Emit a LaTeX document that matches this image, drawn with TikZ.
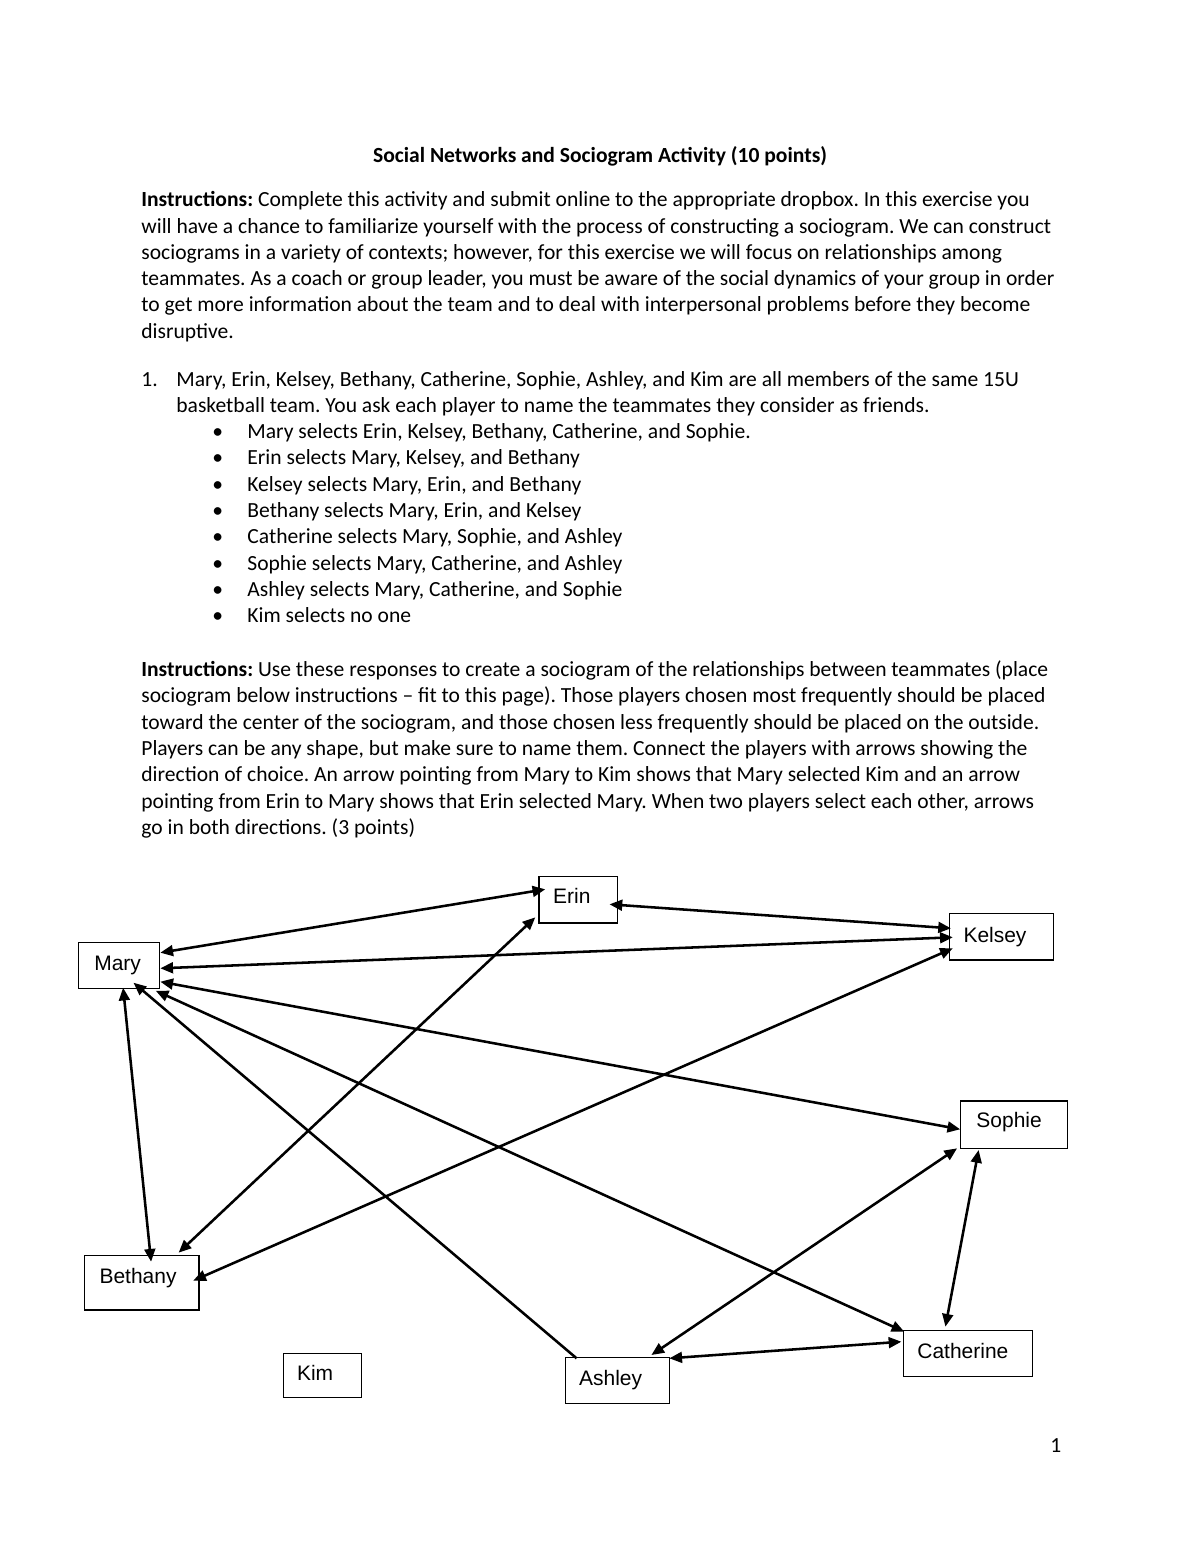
\documentclass[tikz,border=0pt]{standalone}
\usepackage{fontspec}
\setmainfont{Carlito}
\newfontfamily\boxfont{Liberation Sans}
\usetikzlibrary{arrows.meta}
\frenchspacing
\begin{document}
\begin{tikzpicture}[x=0.51pt,y=-0.51pt,
  txt/.style={anchor=base west, inner sep=0pt, font=\fontsize{11pt}{13.4pt}\selectfont},
  ttl/.style={anchor=base, inner sep=0pt, font=\fontsize{11pt}{13.4pt}\selectfont\bfseries},
  pbox/.style={draw, line width=0.6pt, rectangle, anchor=north west, inner ysep=0pt,
    align=left, font=\boxfont\fontsize{10.7pt}{12pt}\selectfont},
  >={Triangle[length=6.5pt,width=5.5pt]},
  conn/.style={line width=1.3pt, <->},
  oneway/.style={line width=1.3pt, ->}]
\useasboundingbox (0,0) rectangle (1200,1553);
\fill[white] (0,0) rectangle (1200,1553);

% ---- title and instructions ----
\node[ttl] (title) at (600,162.7) {Social Networks and Sociogram Activity (10 points)};

\node[txt] (pa1) at (141,207) {\textbf{Instructions:} Complete this activity and submit online to the appropriate dropbox. In this exercise you};
\node[txt] (pa2) at (141,233.2) {will have a chance to familiarize yourself with the process of constructing a sociogram. We can construct};
\node[txt] (pa3) at (141,259.4) {sociograms in a variety of contexts; however, for this exercise we will focus on relationships among};
\node[txt] (pa4) at (141,285.6) {teammates. As a coach or group leader, you must be aware of the social dynamics of your group in order};
\node[txt] (pa5) at (141,311.8) {to get more information about the team and to deal with interpersonal problems before they become};
\node[txt] (pa6) at (141,338) {disruptive.};

\node[txt] (num) at (141,386) {1.};
\node[txt] (la1) at (176,386) {Mary, Erin, Kelsey, Bethany, Catherine, Sophie, Ashley, and Kim are all members of the same 15U};
\node[txt] (la2) at (176,412.3) {basketball team. You ask each player to name the teammates they consider as friends.};

\node[txt] (b1) at (212,438.6) {•};
\node[txt] (t1) at (247,438.6) {Mary selects Erin, Kelsey, Bethany, Catherine, and Sophie.};
\node[txt] (b2) at (212,464.9) {•};
\node[txt] (t2) at (247,464.9) {Erin selects Mary, Kelsey, and Bethany};
\node[txt] (b3) at (212,491.2) {•};
\node[txt] (t3) at (247,491.2) {Kelsey selects Mary, Erin, and Bethany};
\node[txt] (b4) at (212,517.5) {•};
\node[txt] (t4) at (247,517.5) {Bethany selects Mary, Erin, and Kelsey};
\node[txt] (b5) at (212,543.8) {•};
\node[txt] (t5) at (247,543.8) {Catherine selects Mary, Sophie, and Ashley};
\node[txt] (b6) at (212,570.1) {•};
\node[txt] (t6) at (247,570.1) {Sophie selects Mary, Catherine, and Ashley};
\node[txt] (b7) at (212,596.4) {•};
\node[txt] (t7) at (247,596.4) {Ashley selects Mary, Catherine, and Sophie};
\node[txt] (b8) at (212,622.7) {•};
\node[txt] (t8) at (247,622.7) {Kim selects no one};

\node[txt] (pb1) at (141,676.6) {\textbf{Instructions:} Use these responses to create a sociogram of the relationships between teammates (place};
\node[txt] (pb2) at (141,702.9) {sociogram below instructions – fit to this page). Those players chosen most frequently should be placed};
\node[txt] (pb3) at (141,729.2) {toward the center of the sociogram, and those chosen less frequently should be placed on the outside.};
\node[txt] (pb4) at (141,755.5) {Players can be any shape, but make sure to name them. Connect the players with arrows showing the};
\node[txt] (pb5) at (141,781.8) {direction of choice. An arrow pointing from Mary to Kim shows that Mary selected Kim and an arrow};
\node[txt] (pb6) at (141,808.1) {pointing from Erin to Mary shows that Erin selected Mary. When two players select each other, arrows};
\node[txt] (pb7) at (141,834.4) {go in both directions. (3 points)};

% ---- player boxes ----
\node[pbox, inner xsep=8.0pt, text width=25.1pt, text height=14.3pt, text depth=9.0pt] (mary) at (78,942) {Mary};
\node[pbox, inner xsep=7.2pt, text width=25.6pt, text height=14.1pt, text depth=9.7pt] (erin) at (538.4,875.7) {Erin};
\node[pbox, inner xsep=7.1pt, text width=38.6pt, text height=14.5pt, text depth=9.0pt] (kelsey) at (949,913.3) {Kelsey};
\node[pbox, inner xsep=8.0pt, text width=38.5pt, text height=13.4pt, text depth=11.0pt] (sophie) at (960.2,1100.4) {Sophie};
\node[pbox, inner xsep=7.8pt, text width=42.9pt, text height=14.3pt, text depth=13.3pt] (bethany) at (83.7,1255.3) {Bethany};
\node[pbox, inner xsep=7.0pt, text width=25.8pt, text height=13.9pt, text depth=8.8pt] (kim) at (282.7,1352.7) {Kim};
\node[pbox, inner xsep=6.9pt, text width=39.0pt, text height=14.1pt, text depth=9.0pt] (ashley) at (565,1357.3) {Ashley};
\node[pbox, inner xsep=7.3pt, text width=51.4pt, text height=14.4pt, text depth=9.0pt] (catherine) at (902.5,1330) {Catherine};

% ---- connectors ----
\draw[conn] ([shift={(82.3,10.7)}]mary.north west) -- ([shift={(6.9,13.6)}]erin.north west);
\draw[conn] ([shift={(82.3,26.3)}]mary.north west) -- ([shift={(3.8,24)}]kelsey.north west);
\draw[conn] ([shift={(82.3,39.7)}]mary.north west) -- ([shift={(0,28.9)}]sophie.north west);
\draw[conn] ([shift={(77.7,48.7)}]mary.north west) -- ([shift={(1.8,1.7)}]catherine.north west);
\draw[oneway] ([shift={(11.6,1)}]ashley.north west) -- ([shift={(55.5,40.7)}]mary.north west);
\draw[conn] ([shift={(45.1,45.7)}]mary.north west) -- ([shift={(67.4,6.4)}]bethany.north west);
\draw[conn] ([shift={(-3.1,41.6)}]erin.north west) -- ([shift={(94.9,-2.6)}]bethany.north west);
\draw[conn] ([shift={(71.1,28.6)}]erin.north west) -- ([shift={(2,15)}]kelsey.north west);
\draw[conn] ([shift={(3.8,35)}]kelsey.north west) -- ([shift={(109.5,25.4)}]bethany.north west);
\draw[conn] ([shift={(-3.1,47.9)}]sophie.north west) -- ([shift={(86.4,-2.3)}]ashley.north west);
\draw[conn] ([shift={(18.4,49.6)}]sophie.north west) -- ([shift={(42.9,-3.3)}]catherine.north west);
\draw[conn] ([shift={(104.3,1)}]ashley.north west) -- ([shift={(-1.1,11.7)}]catherine.north west);

% ---- page number ----
\node[txt] (pagenum) at (1050,1452) {1};
\end{tikzpicture}
\end{document}
